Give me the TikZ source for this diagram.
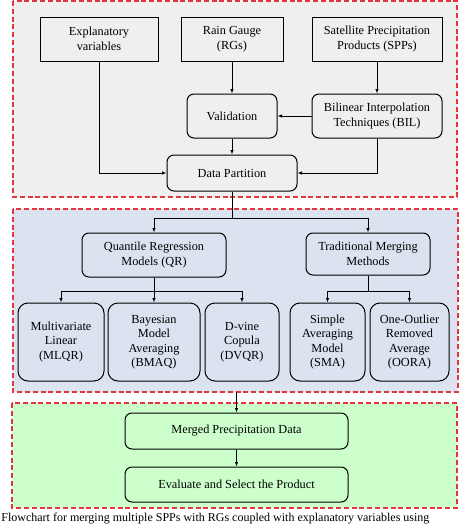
\documentclass[tikz,border=0pt]{standalone}
\usepackage{fontspec}
\setmainfont{Liberation Serif}
\usepackage{xcolor}
\usetikzlibrary{arrows.meta,positioning,calc}

\definecolor{frameRed}{RGB}{228,52,62}
\definecolor{grayBg}{RGB}{239,239,239}
\definecolor{blueBg}{RGB}{220,227,240}
\definecolor{greenBg}{RGB}{204,255,204}

\tikzset{
    sqbox/.style={draw, line width=1pt, align=center, inner sep=2pt,
        font=\fontsize{12.3}{14.5}\selectfont},
    rbox/.style={sqbox, rounded corners=7pt},
    leafbox/.style={sqbox, rounded corners=10pt},
    frame/.style={draw=frameRed, line width=1.3pt, dash pattern=on 5pt off 2.8pt}
}

\begin{document}
\begin{tikzpicture}[x=1pt, y=-1pt, >={Latex[length=4.5pt,width=3.5pt]}, line width=0.8pt]
    \useasboundingbox (0,0) rectangle (474,525);

    % Frames
    \draw[frame, fill=grayBg] (13,1) rectangle (457,197);
    \draw[frame, fill=blueBg] (13,209) rectangle (458,392);
    \draw[frame, fill=greenBg] (12,403) rectangle (457,508);

    % Data sources
    \node[sqbox, minimum width=118pt, minimum height=44pt] (expl) at (99,39) {Explanatory\\variables};
    \node[sqbox, minimum width=102pt, minimum height=44pt] (rg) at (232,39) {Rain Gauge\\(RGs)};
    \node[sqbox, minimum width=130pt, minimum height=44pt] (spp) at (377,39) {Satellite Precipitation\\Products (SPPs)};
    \node[rbox, minimum width=90pt, minimum height=44pt] (val) at (232,116) {Validation};
    \node[rbox, minimum width=130pt, minimum height=44pt] (bil) at (377,116) {Bilinear Interpolation\\Techniques (BIL)};
    \node[rbox, minimum width=130pt, minimum height=36pt] (dp) at (232,173) {Data Partition};

    % Merging methods
    \node[rbox, minimum width=144pt, minimum height=44pt] (qr) at (154,255) {Quantile Regression\\Models (QR)};
    \node[rbox, minimum width=124pt, minimum height=42pt] (tmm) at (368,254) {Traditional Merging\\Methods};
    \node[leafbox, minimum width=86pt, minimum height=78pt] (mlqr) at (61,342) {Multivariate\\Linear\\(MLQR)};
    \node[leafbox, minimum width=92pt, minimum height=78pt] (bmaq) at (154,342) {Bayesian\\Model\\Averaging\\(BMAQ)};
    \node[leafbox, minimum width=74pt, minimum height=78pt] (dvqr) at (242,342) {D-vine\\Copula\\(DVQR)};
    \node[leafbox, minimum width=75pt, minimum height=78pt] (sma) at (327.5,342) {Simple\\Averaging\\Model\\(SMA)};
    \node[leafbox, minimum width=79pt, minimum height=78pt] (oora) at (409.5,342) {One-Outlier\\Removed\\Average\\(OORA)};

    % Output
    \node[rbox, minimum width=223pt, minimum height=36pt] (merged) at (236.5,431) {Merged Precipitation Data};
    \node[rbox, minimum width=223pt, minimum height=35pt] (eval) at (236.5,484.5) {Evaluate and Select the Product};

    % Split points
    \coordinate (split) at (232,218);
    \coordinate (qrsplit) at (154,291);
    \coordinate (tmsplit) at (368,291);
    \coordinate (midbot) at (236.5,392);

    % Connectors
    \draw[->] (rg) -- (val);
    \draw[->] (spp) -- (bil);
    \draw[->] (bil) -- (val);
    \draw[->] (val) -- (dp);
    \draw[->] (expl.south) |- (dp.west);
    \draw[->] (bil.south) |- (dp.east);
    \draw (dp.south) -- (split);
    \draw[->] (split) -| (qr.north);
    \draw[->] (split) -| (tmm.north);
    \draw (qr.south) -- (qrsplit);
    \draw[->] (qrsplit) -| (mlqr.north);
    \draw[->] (qrsplit) -- (bmaq.north);
    \draw[->] (qrsplit) -| (dvqr.north);
    \draw (tmm.south) -- (tmsplit);
    \draw[->] (tmsplit) -| (sma.north);
    \draw[->] (tmsplit) -| (oora.north);
    \draw[->] (midbot) -- (merged);
    \draw[->] (merged) -- (eval);

    % Caption
    \node[anchor=base west, inner sep=0pt, font=\fontsize{12}{14}\selectfont] (caption) at (1,521.5)
        {Flowchart for merging multiple SPPs with RGs coupled with explanatory variables using};
\end{tikzpicture}
\end{document}
